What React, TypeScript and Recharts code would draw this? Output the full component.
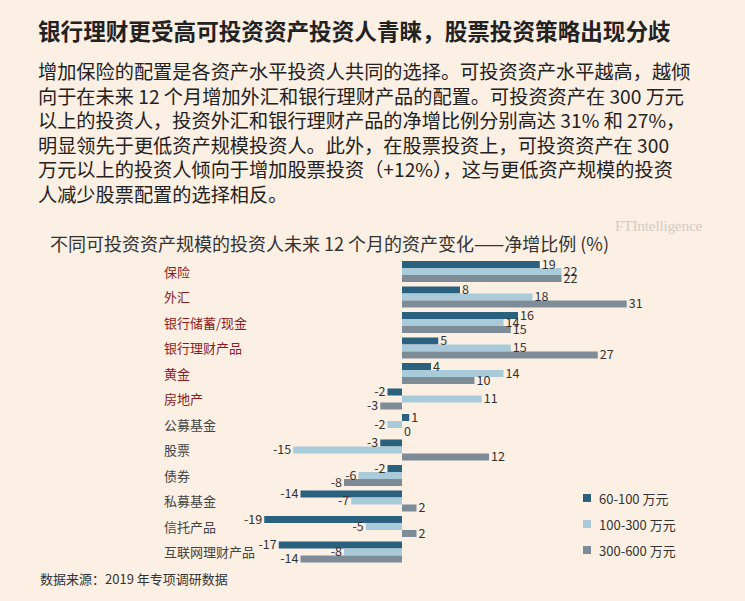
import React from 'react';
import { BarChart, Bar, XAxis, YAxis, LabelList, Legend } from 'recharts';

const categories = [
  '保险', '外汇', '银行储蓄/现金', '银行理财产品', '黄金', '房地产',
  '公募基金', '股票', '债券', '私募基金', '信托产品', '互联网理财产品',
];
const tier1 = [19, 8, 16, 5, 4, -2, 1, -3, -2, -14, -19, -17];
const tier2 = [22, 18, 14, 15, 14, 11, -2, -15, -6, -7, -5, -8];
const tier3 = [22, 31, 15, 27, 10, -3, 0, 12, -8, 2, 2, -14];
const redCategories = ['保险', '外汇', '银行储蓄/现金', '银行理财产品', '黄金', '房地产'];

const seriesNames = ['60-100 万元', '100-300 万元', '300-600 万元'];
const colors = ['#29617f', '#a9cad9', '#7d8c97'];

const data = categories.map((name, i) => ({
  name,
  a: tier1[i],
  b: tier2[i],
  c: tier3[i],
}));

const paragraph = [
  '增加保险的配置是各资产水平投资人共同的选择。可投资资产水平越高，越倾',
  '向于在未来 12 个月增加外汇和银行理财产品的配置。可投资资产在 300 万元',
  '以上的投资人，投资外汇和银行理财产品的净增比例分别高达 31% 和 27%，',
  '明显领先于更低资产规模投资人。此外，在股票投资上，可投资资产在 300',
  '万元以上的投资人倾向于增加股票投资（+12%），这与更低资产规模的投资',
  '人减少股票配置的选择相反。',
];

const FONT = '"Noto Sans CJK SC", "Noto Sans", sans-serif';

const CategoryTick = (props: any) => {
  const { y, payload } = props;
  const red = redCategories.includes(payload.value);
  return (
    <text x={164} y={y} dy={5} textAnchor="start" fontSize={13} fontFamily={FONT} fill={red ? '#8e1c1c' : '#444'}>
      {payload.value}
    </text>
  );
};

const ValueLabel = (props: any) => {
  const { x, y, width, height, value } = props;
  const left = Math.min(x, x + width);
  const right = Math.max(x, x + width);
  const neg = value < 0;
  return (
    <text
      x={neg ? left - 2 : right + 2}
      y={y + height / 2}
      dy={4}
      textAnchor={neg ? 'end' : 'start'}
      fontSize={12.5}
      fontFamily={FONT}
      fill="#333"
    >
      {value}
    </text>
  );
};

// keep zero-value bars (and their labels) in the output
const keepZero = (v: any) => (v === 0 ? 0.01 : 0);

const LegendBox = () => (
  <div style={{ fontFamily: FONT, fontSize: 13, color: '#333' }}>
    {seriesNames.map((n, i) => (
      <div key={n} style={{ display: 'flex', alignItems: 'center', height: 26 }}>
        <span style={{ display: 'inline-block', width: 8, height: 8, background: colors[i], marginRight: 8 }} />
        {n}
      </div>
    ))}
  </div>
);

export default function App() {
  return (
    <div style={{ position: 'fixed', left: 0, top: 0, width: 745, height: 601, background: '#fcefe3', overflow: 'hidden', fontFamily: FONT }}>
      <div style={{ position: 'absolute', left: 38, top: 14, fontSize: 22.6, fontWeight: 700, color: '#222', whiteSpace: 'nowrap' }}>
        银行理财更受高可投资资产投资人青睐，股票投资策略出现分歧
      </div>
      <div style={{ position: 'absolute', left: 38, top: 59, fontSize: 19.2, lineHeight: '24.6px', color: '#222' }}>
        {paragraph.map((l) => (
          <div key={l} style={{ whiteSpace: 'nowrap' }}>{l}</div>
        ))}
      </div>
      <div style={{ position: 'absolute', left: 615, top: 217, fontFamily: '"Liberation Serif", serif', fontSize: 15.5, color: '#d6cdc4', whiteSpace: 'nowrap', letterSpacing: -0.3 }}>
        FTIntelligence
      </div>
      <div style={{ position: 'absolute', left: 50, top: 230, fontSize: 18, color: '#333', whiteSpace: 'nowrap' }}>
        不同可投资资产规模的投资人未来 12 个月的资产变化——净增比例 (%)
      </div>
      <div style={{ position: 'absolute', left: 40, top: 569, fontSize: 13, color: '#333', whiteSpace: 'nowrap' }}>
        数据来源：2019 年专项调研数据
      </div>
      <div style={{ position: 'absolute', left: 0, top: 0 }}>
        <BarChart
          width={745}
          height={601}
          data={data}
          layout="vertical"
          margin={{ top: 259, right: 111, bottom: 36, left: 0 }}
          barGap={0}
          barCategoryGap={2}
        >
          <XAxis type="number" domain={[-20, 32]} hide allowDataOverflow />
          <YAxis type="category" dataKey="name" width={257} axisLine={false} tickLine={false} tick={<CategoryTick />} interval={0} />
          <Legend
            layout="vertical"
            align="center"
            verticalAlign="middle"
            content={<LegendBox />}
            wrapperStyle={{ left: 583, top: 485, width: 130 }}
          />
          <Bar dataKey="a" name={seriesNames[0]} fill={colors[0]} minPointSize={keepZero} isAnimationActive={false}>
            <LabelList dataKey="a" content={<ValueLabel />} />
          </Bar>
          <Bar dataKey="b" name={seriesNames[1]} fill={colors[1]} minPointSize={keepZero} isAnimationActive={false}>
            <LabelList dataKey="b" content={<ValueLabel />} />
          </Bar>
          <Bar dataKey="c" name={seriesNames[2]} fill={colors[2]} minPointSize={keepZero} isAnimationActive={false}>
            <LabelList dataKey="c" content={<ValueLabel />} />
          </Bar>
        </BarChart>
      </div>
    </div>
  );
}
